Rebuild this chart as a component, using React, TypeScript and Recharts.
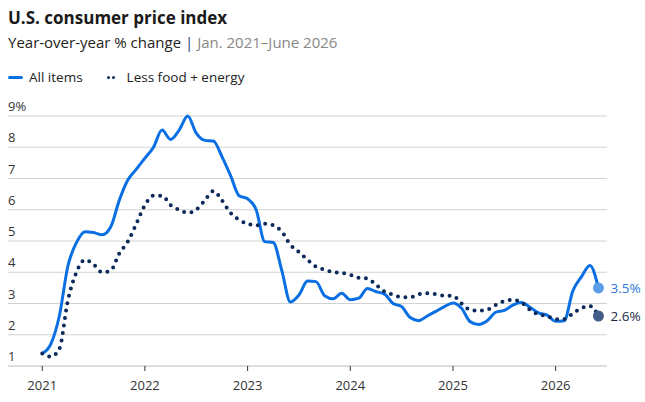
import { CartesianGrid, Line, LineChart, ReferenceDot, XAxis, YAxis } from 'recharts'

// monthly, Jan 2021 .. Jun 2026
const allItems = [
  1.4, 1.7, 2.6, 4.2, 4.95, 5.3, 5.27, 5.2, 5.45, 6.3, 6.95, 7.3,
  7.65, 8.0, 8.55, 8.25, 8.55, 9.0, 8.45, 8.22, 8.2, 7.7, 7.1, 6.45,
  6.35, 6.0, 4.98, 4.95, 4.05, 3.05, 3.27, 3.72, 3.7, 3.25, 3.15, 3.33,
  3.12, 3.17, 3.48, 3.38, 3.3, 3.0, 2.9, 2.55, 2.45, 2.6, 2.75, 2.9,
  3.02, 2.85, 2.42, 2.33, 2.45, 2.72, 2.78, 2.95, 3.03, 2.88, 2.7, 2.63,
  2.43, 2.45, 3.4, 3.85, 4.22, 3.5
]

const lessFoodEnergy = [
  1.4, 1.3, 1.55, 3.1, 4.0, 4.4, 4.25, 4.0, 4.05, 4.6, 4.98, 5.55,
  6.15, 6.45, 6.45, 6.15, 6.0, 5.9, 6.0, 6.3, 6.6, 6.3, 5.9, 5.68,
  5.55, 5.5, 5.55, 5.5, 5.3, 4.88, 4.65, 4.4, 4.18, 4.08, 4.0, 3.98,
  3.92, 3.82, 3.8, 3.6, 3.38, 3.28, 3.2, 3.2, 3.3, 3.33, 3.3, 3.25,
  3.24, 3.0, 2.8, 2.77, 2.8, 2.95, 3.08, 3.12, 3.03, 2.8, 2.65, 2.6,
  2.5, 2.5, 2.68, 2.85, 2.92, 2.6
]

const yearLabels = ['2021', '2022', '2023', '2024', '2025', '2026']
const yearTicks = [0, 12, 24, 36, 48, 60]
const yTicks = [1, 2, 3, 4, 5, 6, 7, 8, 9]

const data = allItems.map((v, i) => ({ i, all: v, core: lessFoodEnergy[i] }))
const last = data.length - 1

const BLUE = '#0a6fe3'
const NAVY = '#0b2a5a'
const FONT = '"Open Sans", sans-serif'

function YTick({ y, payload }: any) {
  return (
    <text x={0} y={y - 5} fill="#333" stroke="none" fontSize={13} fontFamily={FONT}>
      {payload.value === 9 ? '9%' : payload.value}
    </text>
  )
}

function endLabel(fill: string, text: string) {
  return (props: any) => {
    const { x, y, width, height } = props.viewBox
    return (
      <text x={x + width / 2 + 12} y={y + height / 2 + 5} fill={fill} stroke="none" fontSize={13.5} fontFamily={FONT}>
        {text}
      </text>
    )
  }
}

export default function App() {
  return (
    <div style={{ position: 'relative', width: 645, height: 402, overflow: 'hidden', fontFamily: FONT }}>
      <style>{'body { margin: 0; overflow: hidden; }'}</style>
      <div style={{ position: 'absolute', top: 7, left: 8, fontSize: 17, fontWeight: 700, lineHeight: '22px', color: '#1a1a1a' }}>
        U.S. consumer price index
      </div>
      <div style={{ position: 'absolute', top: 32, left: 8, fontSize: 15, lineHeight: '20px', color: '#222', whiteSpace: 'nowrap' }}>
        Year-over-year % change <span style={{ color: '#27406e' }}>|</span> <span style={{ color: '#888' }}>Jan. 2021–June 2026</span>
      </div>
      <div style={{ position: 'absolute', top: 67, left: 8, fontSize: 13.5, lineHeight: '20px', color: '#222', display: 'flex', alignItems: 'center', whiteSpace: 'nowrap' }}>
        <span style={{ display: 'inline-block', width: 15, height: 3, background: BLUE, borderRadius: 2, marginRight: 6 }} />
        <span>All items</span>
        <span style={{ display: 'inline-block', width: 3, height: 3, borderRadius: 2, background: NAVY, marginLeft: 24 }} />
        <span style={{ display: 'inline-block', width: 3, height: 3, borderRadius: 2, background: NAVY, marginLeft: 2 }} />
        <span style={{ marginLeft: 12 }}>Less food + energy</span>
      </div>
      <div style={{ position: 'absolute', top: 8, left: 8 }}>
        <LineChart width={637} height={394} data={data} margin={{ top: 108, right: 38, left: -20, bottom: 6 }}>
          <CartesianGrid vertical={false} stroke="#d2d2d2" />
          <XAxis
            dataKey="i"
            type="number"
            domain={[-4, 66]}
            ticks={yearTicks}
            tickFormatter={(v: number) => yearLabels[yearTicks.indexOf(v)]}
            axisLine={{ stroke: '#d2d2d2' }}
            tickLine={{ stroke: '#333' }}
            tickSize={5}
            tickMargin={10}
            height={30}
            tick={{ fill: '#333', fontSize: 13, fontFamily: FONT }}
          />
          <YAxis
            domain={[1, 9]}
            ticks={yTicks}
            width={20}
            axisLine={false}
            tickLine={false}
            tick={(p: any) => <YTick {...p} />}
          />
          <Line
            type="monotone"
            dataKey="all"
            stroke={BLUE}
            strokeWidth={3}
            dot={false}
            activeDot={false}
            isAnimationActive={false}
          />
          <Line
            type="monotone"
            dataKey="core"
            stroke={NAVY}
            strokeWidth={4}
            strokeDasharray="0 7.5"
            strokeLinecap="round"
            dot={false}
            activeDot={false}
            isAnimationActive={false}
          />
          <ReferenceDot
            x={last}
            y={allItems[last]}
            r={5.5}
            fill="#5b9de8"
            stroke="none"
            ifOverflow="visible"
            label={endLabel('#2a78dc', `${allItems[last]}%`)}
          />
          <ReferenceDot
            x={last}
            y={lessFoodEnergy[last]}
            r={5.5}
            fill="#435d88"
            stroke="none"
            ifOverflow="visible"
            label={endLabel('#1b2a44', `${lessFoodEnergy[last]}%`)}
          />
        </LineChart>
      </div>
    </div>
  )
}
